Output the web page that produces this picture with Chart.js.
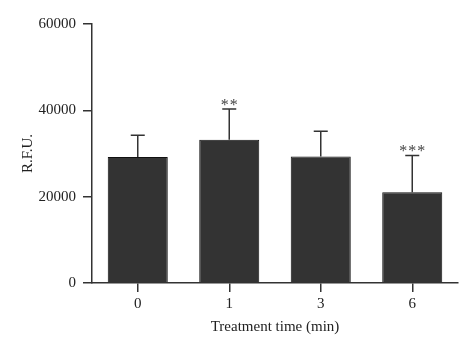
<!DOCTYPE html>
<html lang="en">
<head>
<meta charset="UTF-8">
<title>R.F.U. by treatment time</title>
<script src="https://cdn.jsdelivr.net/npm/chart.js@4/dist/chart.umd.min.js"></script>
<style>
  body { margin: 0; background: #fff; }
  #wrap { width: 474px; height: 353px; }
</style>
</head>
<body>
<div id="wrap"><canvas id="c" width="474" height="353"></canvas></div>
<script>
var categories = ['0', '1', '3', '6'];
var means = [29200, 33200, 29300, 21000];
var upperErr = [34200, 40300, 35150, 29550];
var marks = ['', '**', '', '***'];
var yTicks = [0, 20000, 40000, 60000];

var font = 'Liberation Serif';
var axisColor = '#333';

// error bars and significance stars, placed via the chart scales
var errorBars = {
    id: 'errorBars',
    afterDatasetsDraw: function (chart) {
        var ctx = chart.ctx;
        var x = chart.scales.x, y = chart.scales.y;
        ctx.save();
        ctx.strokeStyle = axisColor;
        ctx.lineWidth = 1.5;
        for (var i = 0; i < categories.length; i++) {
            var cx = x.getPixelForValue(i);
            var top = y.getPixelForValue(means[i]);
            var cap = y.getPixelForValue(upperErr[i]);
            ctx.beginPath();
            ctx.moveTo(cx, top);
            ctx.lineTo(cx, cap);
            ctx.moveTo(cx - 7, cap);
            ctx.lineTo(cx + 7, cap);
            ctx.stroke();
            if (marks[i]) {
                ctx.fillStyle = '#444';
                ctx.font = '16px "' + font + '"';
                ctx.textAlign = 'center';
                ctx.textBaseline = 'alphabetic';
                var n = marks[i].length;
                for (var k = 0; k < n; k++) {
                    ctx.fillText('*', cx + (k - (n - 1) / 2) * 9, cap + 1);
                }
            }
        }
        ctx.restore();
    }
};

new Chart(document.getElementById('c'), {
    type: 'bar',
    data: {
        labels: categories,
        datasets: [{
            data: means,
            backgroundColor: '#333',
            borderColor: '#111',
            borderWidth: 1,
            barPercentage: 0.656,
            categoryPercentage: 1
        }]
    },
    options: {
        responsive: false,
        animation: false,
        layout: { padding: { top: 24, right: 16, left: 0, bottom: 0 } },
        plugins: { legend: { display: false }, tooltip: { enabled: false } },
        scales: {
            x: {
                afterFit: function (s) { s.height = 70; },
                grid: { display: true, drawOnChartArea: false, offset: false, tickLength: 9, color: axisColor, lineWidth: 1.5 },
                border: { display: true, color: axisColor, width: 1.5 },
                ticks: { color: '#222', padding: 3, font: { family: font, size: 15 } },
                title: { display: true, text: 'Treatment time (min)', color: '#222', font: { family: font, size: 15 }, padding: { top: 2, bottom: 17 } }
            },
            y: {
                min: 0,
                max: 60000,
                afterFit: function (s) { s.width = 92; },
                afterBuildTicks: function (s) { s.ticks = yTicks.map(function (v) { return { value: v }; }); },
                grid: { display: true, drawOnChartArea: false, tickLength: 9, color: axisColor, lineWidth: 1.5 },
                border: { display: true, color: axisColor, width: 1.5 },
                ticks: { color: '#222', padding: 7, font: { family: font, size: 15 }, callback: function (v) { return String(v); } },
                title: { display: true, text: 'R.F.U.', color: '#222', font: { family: font, size: 15 }, padding: { bottom: 0, top: 19 } }
            }
        }
    },
    plugins: [errorBars]
});
</script>
</body>
</html>
